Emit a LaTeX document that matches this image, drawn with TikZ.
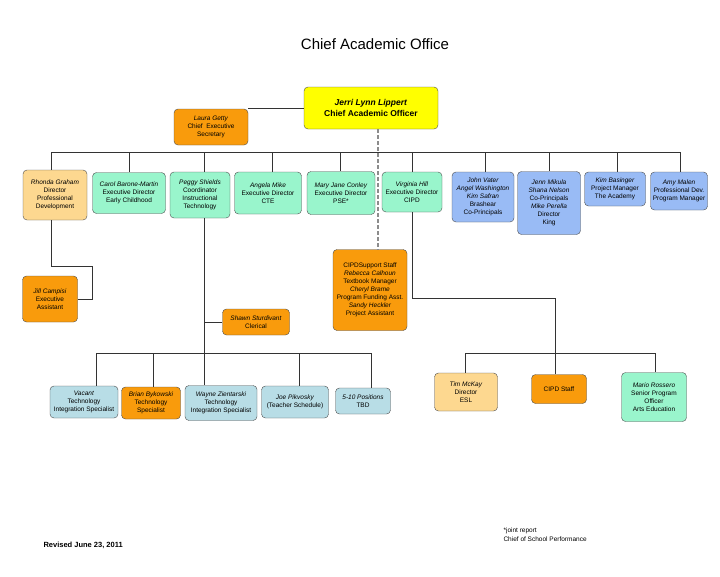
\documentclass[tikz,border=0pt]{standalone}
\usepackage{fontspec}
\setmainfont{Liberation Sans}
\usetikzlibrary{positioning, calc}

\definecolor{chiefyellow}{HTML}{FFFF00}
\definecolor{staffgold}{HTML}{F99B0C}
\definecolor{peach}{HTML}{FDD890}
\definecolor{aqua}{HTML}{99F5CC}
\definecolor{skyblue}{HTML}{99BBF5}
\definecolor{paleblue}{HTML}{B8DDE6}

\begin{document}
\begin{tikzpicture}[
    x=1pt, y=-1pt,
    % box styles
    box/.style={draw=black!70, rounded corners=4pt, align=center, font=\fontsize{6.5}{8}\selectfont, inner sep=1pt},
    chief/.style={box, fill=chiefyellow, minimum width=134pt, minimum height=42pt, font=\fontsize{8.5}{11}\selectfont\bfseries},
    gold/.style={box, fill=staffgold},
    peachbox/.style={box, fill=peach},
    aquabox/.style={box, fill=aqua},
    bluebox/.style={box, fill=skyblue},
    palebox/.style={box, fill=paleblue},
    link/.style={draw=black!80, line width=0.6pt},
    dotted link/.style={draw=black!45, line width=1.2pt, dash pattern=on 4pt off 2pt}
]
    \useasboundingbox (0,0) rectangle (720,576);

    % title
    \node (title) at (375,44) {\fontsize{15}{18}\selectfont Chief Academic Office};

    % top level
    \node[chief] (Jerri) at (371,108) {\textit{Jerri Lynn Lippert}\\Chief Academic Officer};
    \node[gold, minimum width=74pt, minimum height=36pt] (Laura) at (211,127) {\textit{Laura Getty}\\Chief\ \ Executive\\Secretary};

    % first row
    \node[peachbox, minimum width=64pt, minimum height=50pt] (Rhonda) at (55,195) {\textit{Rhonda Graham}\\Director\\Professional\\Development};
    \node[aquabox, minimum width=73pt, minimum height=41pt] (Carol) at (129,193) {\textit{Carol Barone-Martin}\\Executive Director\\Early Childhood};
    \node[aquabox, minimum width=60pt, minimum height=46pt] (Peggy) at (200,195) {\textit{Peggy Shields}\\Coordinator\\Instructional\\Technology};
    \node[aquabox, minimum width=67pt, minimum height=42pt] (Angela) at (268,193) {\textit{Angela Mike}\\Executive Director\\CTE};
    \node[aquabox, minimum width=68pt, minimum height=43pt] (MaryJane) at (341,193) {\textit{Mary Jane Conley}\\Executive Director\\PSE*};
    \node[aquabox, minimum width=60pt, minimum height=40pt] (Virginia) at (412,192) {\textit{Virginia Hill}\\Executive Director\\CIPD};
    \node[bluebox, minimum width=62pt, minimum height=50pt] (John) at (483,197) {\textit{John Vater}\\\textit{Angel Washington}\\\textit{Kim Safran}\\Brashear\\Co-Principals};
    \node[bluebox, minimum width=63pt, minimum height=63pt] (Jenn) at (549,203) {\textit{Jenn Mikula}\\\textit{Shana Nelson}\\Co-Principals\\\textit{Mike Perella}\\Director\\King};
    \node[bluebox, minimum width=61pt, minimum height=34pt] (Kim) at (615,189) {\textit{Kim Basinger}\\Project Manager\\The Academy};
    \node[bluebox, minimum width=57pt, minimum height=38pt] (Amy) at (679,191) {\textit{Amy Malen}\\Professional Dev.\\Program Manager};

    % second level
    \node[gold, minimum width=55pt, minimum height=46pt] (Jill) at (50,299) {\textit{Jill Campisi}\\Executive\\Assistant};
    \node[gold, minimum width=67pt, minimum height=26pt] (Shawn) at (256,322) {\textit{Shawn Sturdivant}\\Clerical};
    \node[gold, minimum width=74pt, minimum height=81pt] (Support) at (370,290) {CIPDSupport Staff\\\textit{Rebecca Calhoun}\\Textbook Manager\\\textit{Cheryl Brame}\\Program Funding Asst.\\\textit{Sandy Heckler}\\Project Assistant};

    % technology row
    \node[palebox, minimum width=68pt, minimum height=32pt] (Vacant) at (84,402) {\textit{Vacant}\\Technology\\Integration Specialist};
    \node[gold, minimum width=59pt, minimum height=32pt] (Brian) at (151,403) {\textit{Brian Bykowski}\\Technology\\Specialist};
    \node[palebox, minimum width=72pt, minimum height=35pt] (Wayne) at (221,403) {\textit{Wayne Zientarski}\\Technology\\Integration Specialist};
    \node[palebox, minimum width=67pt, minimum height=32pt] (Joe) at (295,402) {\textit{Joe Pikvosky}\\(Teacher Schedule)};
    \node[palebox, minimum width=55pt, minimum height=26pt] (Positions) at (363,401) {\textit{5-10 Positions}\\TBD};

    % CIPD row
    \node[peachbox, minimum width=63pt, minimum height=38pt] (Tim) at (466,392) {\textit{Tim McKay}\\Director\\ESL};
    \node[gold, minimum width=55pt, minimum height=29pt] (Staff) at (559,389) {CIPD Staff};
    \node[aquabox, minimum width=65pt, minimum height=49pt] (Mario) at (654,397) {\textit{Mario Rossero}\\Senior Program\\Officer\\Arts Education};

    % connectors
    \coordinate (busL) at (51,152);
    \coordinate (busR) at (680,152);
    \draw[link] (busL) -- (busR);
    \draw[link] (Laura.east |- Jerri.west) -- (Jerri.west);
    \foreach \n/\x in {Rhonda/51, Carol/129, Peggy/204, Angela/272, MaryJane/340, Virginia/412, John/485, Jenn/549, Kim/617, Amy/680}
        \draw[link] (\x,152) -- ({\x},0 |- \n.north);
    \draw[dotted link] (378,0 |- Jerri.south) -- (378,0 |- Support.north);

    \draw[link] (51,0 |- Rhonda.south) -- (51,266) -- (92,266) |- (Jill.east);
    \draw[link] (204,0 |- Peggy.south) -- (204,353);
    \draw[link] (204,0 |- Shawn.west) -- (Shawn.west);
    \coordinate (techL) at (96,353);
    \coordinate (techR) at (371,353);
    \draw[link] (techL) -- (techR);
    \foreach \n/\x in {Vacant/96, Brian/153, Wayne/204, Joe/299, Positions/371}
        \draw[link] (\x,353) -- ({\x},0 |- \n.north);

    \draw[link] (412,0 |- Virginia.south) -- (412,298) -- (555,298) -- (555,353);
    \coordinate (cipdL) at (465,353);
    \coordinate (cipdR) at (655,353);
    \draw[link] (cipdL) -- (cipdR);
    \draw[link] (465,353) -- (465,0 |- Tim.north);
    \draw[link] (555,353) -- (555,0 |- Staff.north);
    \draw[link] (655,353) -- (655,0 |- Mario.north);

    % notes
    \node[anchor=west, align=left, font=\fontsize{6.5}{9}\selectfont] (note) at (500,535) {*joint report\\Chief of School Performance};
    \node[anchor=west, font=\fontsize{7.5}{9}\selectfont\bfseries] (revised) at (40,545) {Revised June 23, 2011};
\end{tikzpicture}
\end{document}
